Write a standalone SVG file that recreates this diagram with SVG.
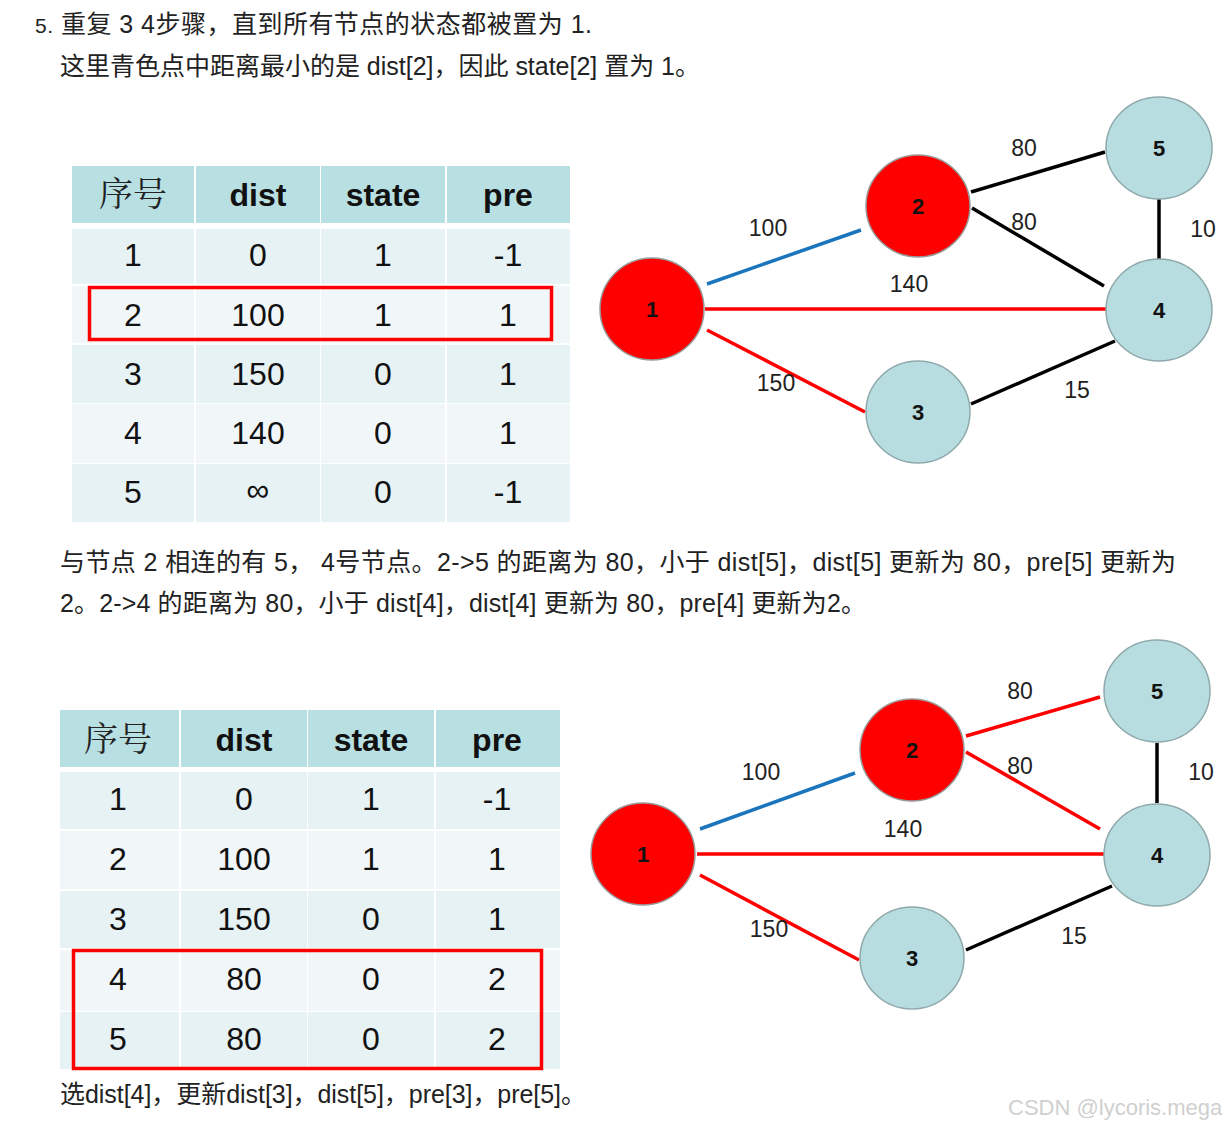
<svg xmlns="http://www.w3.org/2000/svg" width="1231" height="1126" viewBox="0 0 1231 1126">
<style>
.p{font-family:"Liberation Sans","Noto Sans CJK SC",sans-serif;font-size:25px;fill:#222}
.hd{fill:#b8dfe2}
.r1{fill:#e6f2f4}
.r2{fill:#f1f7f9}
.th{font-family:"Liberation Sans","Noto Sans CJK SC",sans-serif;font-size:32px;font-weight:bold;fill:#111;text-anchor:middle}
.thc{font-family:"Noto Serif CJK SC","Noto Sans CJK SC",serif;font-size:34px;fill:#222;text-anchor:middle}
.td{font-family:"Liberation Sans",sans-serif;font-size:32px;fill:#111;text-anchor:middle}
.hl{fill:none;stroke:#ff0000;stroke-width:3.5}
.nr{fill:#ff0000;stroke:#999;stroke-width:1.5}
.nb{fill:#b8dde0;stroke:#8fa9ab;stroke-width:1.5}
.nl{font-family:"Liberation Sans",sans-serif;font-size:22px;font-weight:bold;fill:#111;text-anchor:middle}
.el{font-family:"Liberation Sans",sans-serif;font-size:23px;fill:#222;text-anchor:middle}
.eb{stroke:#000;stroke-width:3.5}
.er{stroke:#ff0000;stroke-width:3.5}
.eu{stroke:#1a75bc;stroke-width:3.5}
</style>
<rect width="1231" height="1126" fill="#fff"/>

<g id="text1">
<text class="p" x="35" y="33" textLength="557" lengthAdjust="spacing"><tspan font-size="21">5.</tspan> 重复 3 4步骤，直到所有节点的状态都被置为 1.</text>
<text class="p" x="60" y="75" textLength="640" lengthAdjust="spacing">这里青色点中距离最小的是 dist[2]，因此 state[2] 置为 1。</text>
</g>

<g id="table1">
<rect class="hd" x="72" y="166" width="122" height="57"/>
<rect class="hd" x="196" y="166" width="124" height="57"/>
<rect class="hd" x="321" y="166" width="124" height="57"/>
<rect class="hd" x="447" y="166" width="123" height="57"/>
<g class="r1"><rect x="72" y="229" width="122" height="55"/><rect x="196" y="229" width="124" height="55"/><rect x="321" y="229" width="124" height="55"/><rect x="447" y="229" width="123" height="55"/></g>
<g class="r2"><rect x="72" y="286" width="122" height="57"/><rect x="196" y="286" width="124" height="57"/><rect x="321" y="286" width="124" height="57"/><rect x="447" y="286" width="123" height="57"/></g>
<g class="r1"><rect x="72" y="345" width="122" height="58"/><rect x="196" y="345" width="124" height="58"/><rect x="321" y="345" width="124" height="58"/><rect x="447" y="345" width="123" height="58"/></g>
<g class="r2"><rect x="72" y="404" width="122" height="59"/><rect x="196" y="404" width="124" height="59"/><rect x="321" y="404" width="124" height="59"/><rect x="447" y="404" width="123" height="59"/></g>
<g class="r1"><rect x="72" y="464" width="122" height="58"/><rect x="196" y="464" width="124" height="58"/><rect x="321" y="464" width="124" height="58"/><rect x="447" y="464" width="123" height="58"/></g>
<text class="thc" x="133" y="206">序号</text>
<text class="th" x="258" y="206">dist</text>
<text class="th" x="383" y="206">state</text>
<text class="th" x="508" y="206">pre</text>
<text class="td" x="133" y="266">1</text><text class="td" x="258" y="266">0</text><text class="td" x="383" y="266">1</text><text class="td" x="508" y="266">-1</text>
<text class="td" x="133" y="326">2</text><text class="td" x="258" y="326">100</text><text class="td" x="383" y="326">1</text><text class="td" x="508" y="326">1</text>
<text class="td" x="133" y="385">3</text><text class="td" x="258" y="385">150</text><text class="td" x="383" y="385">0</text><text class="td" x="508" y="385">1</text>
<text class="td" x="133" y="444">4</text><text class="td" x="258" y="444">140</text><text class="td" x="383" y="444">0</text><text class="td" x="508" y="444">1</text>
<text class="td" x="133" y="503">5</text><text class="td" x="258" y="501" font-size="26">∞</text><text class="td" x="383" y="503">0</text><text class="td" x="508" y="503">-1</text>
<rect class="hl" x="89.5" y="287.5" width="462" height="52"/>
</g>

<g id="graph1-edges">
<line class="eu" x1="707" y1="284" x2="861" y2="230"/>
<line class="er" x1="705" y1="309" x2="1107" y2="309"/>
<line class="er" x1="707" y1="330" x2="865" y2="412"/>
<line class="eb" x1="971" y1="192" x2="1105" y2="152"/>
<line class="eb" x1="972" y1="208" x2="1104" y2="286"/>
<line class="eb" x1="1159" y1="199" x2="1159" y2="259"/>
<line class="eb" x1="971" y1="404" x2="1115" y2="341"/>
<text class="el" x="1024" y="156">80</text>
<text class="el" x="1024" y="230">80</text>
<text class="el" x="768" y="236">100</text>
<text class="el" x="1203" y="237">10</text>
<text class="el" x="909" y="292">140</text>
<text class="el" x="776" y="391">150</text>
<text class="el" x="1077" y="398">15</text>
</g>
<g id="g1-n1"><ellipse class="nr" cx="652" cy="309" rx="52" ry="51"/><text class="nl" x="652" y="317">1</text></g>
<g id="g1-n2"><ellipse class="nr" cx="918" cy="206" rx="52" ry="51"/><text class="nl" x="918" y="214">2</text></g>
<g id="g1-n3"><ellipse class="nb" cx="918" cy="412" rx="52" ry="51"/><text class="nl" x="918" y="420">3</text></g>
<g id="g1-n4"><ellipse class="nb" cx="1159" cy="310" rx="53" ry="51"/><text class="nl" x="1159" y="318">4</text></g>
<g id="g1-n5"><ellipse class="nb" cx="1159" cy="148" rx="53" ry="51"/><text class="nl" x="1159" y="156">5</text></g>

<g id="text2">
<text class="p" x="60" y="571" textLength="1116" lengthAdjust="spacing">与节点 2 相连的有 5， 4号节点。2-&gt;5 的距离为 80，小于 dist[5]，dist[5] 更新为 80，pre[5] 更新为</text>
<text class="p" x="60" y="612" textLength="806" lengthAdjust="spacing">2。2-&gt;4 的距离为 80，小于 dist[4]，dist[4] 更新为 80，pre[4] 更新为2。</text>
</g>

<g id="table2">
<rect class="hd" x="60" y="710" width="119" height="57"/>
<rect class="hd" x="181" y="710" width="126" height="57"/>
<rect class="hd" x="308" y="710" width="126" height="57"/>
<rect class="hd" x="436" y="710" width="124" height="57"/>
<g class="r1"><rect x="60" y="772" width="119" height="57"/><rect x="181" y="772" width="126" height="57"/><rect x="308" y="772" width="126" height="57"/><rect x="436" y="772" width="124" height="57"/></g>
<g class="r2"><rect x="60" y="831" width="119" height="58"/><rect x="181" y="831" width="126" height="58"/><rect x="308" y="831" width="126" height="58"/><rect x="436" y="831" width="124" height="58"/></g>
<g class="r1"><rect x="60" y="891" width="119" height="57"/><rect x="181" y="891" width="126" height="57"/><rect x="308" y="891" width="126" height="57"/><rect x="436" y="891" width="124" height="57"/></g>
<g class="r2"><rect x="60" y="950" width="119" height="61"/><rect x="181" y="950" width="126" height="61"/><rect x="308" y="950" width="126" height="61"/><rect x="436" y="950" width="124" height="61"/></g>
<g class="r1"><rect x="60" y="1012" width="119" height="57"/><rect x="181" y="1012" width="126" height="57"/><rect x="308" y="1012" width="126" height="57"/><rect x="436" y="1012" width="124" height="57"/></g>
<text class="thc" x="118" y="751">序号</text>
<text class="th" x="244" y="751">dist</text>
<text class="th" x="371" y="751">state</text>
<text class="th" x="497" y="751">pre</text>
<text class="td" x="118" y="810">1</text><text class="td" x="244" y="810">0</text><text class="td" x="371" y="810">1</text><text class="td" x="497" y="810">-1</text>
<text class="td" x="118" y="870">2</text><text class="td" x="244" y="870">100</text><text class="td" x="371" y="870">1</text><text class="td" x="497" y="870">1</text>
<text class="td" x="118" y="930">3</text><text class="td" x="244" y="930">150</text><text class="td" x="371" y="930">0</text><text class="td" x="497" y="930">1</text>
<text class="td" x="118" y="990">4</text><text class="td" x="244" y="990">80</text><text class="td" x="371" y="990">0</text><text class="td" x="497" y="990">2</text>
<text class="td" x="118" y="1050">5</text><text class="td" x="244" y="1050">80</text><text class="td" x="371" y="1050">0</text><text class="td" x="497" y="1050">2</text>
<rect class="hl" x="73.5" y="950.5" width="468" height="118"/>
</g>

<g id="graph2-edges">
<line class="eu" x1="700" y1="829" x2="855" y2="773"/>
<line class="er" x1="697" y1="854" x2="1104" y2="854"/>
<line class="er" x1="700" y1="875" x2="859" y2="960"/>
<line class="er" x1="966" y1="736" x2="1100" y2="697"/>
<line class="er" x1="966" y1="752" x2="1100" y2="829"/>
<line class="eb" x1="1157" y1="743" x2="1157" y2="803"/>
<line class="eb" x1="966" y1="950" x2="1112" y2="886"/>
<text class="el" x="1020" y="699">80</text>
<text class="el" x="1020" y="774">80</text>
<text class="el" x="761" y="780">100</text>
<text class="el" x="1201" y="780">10</text>
<text class="el" x="903" y="837">140</text>
<text class="el" x="769" y="937">150</text>
<text class="el" x="1074" y="944">15</text>
</g>
<g id="g2-n1"><ellipse class="nr" cx="643" cy="854" rx="52" ry="51"/><text class="nl" x="643" y="862">1</text></g>
<g id="g2-n2"><ellipse class="nr" cx="912" cy="750" rx="52" ry="51"/><text class="nl" x="912" y="758">2</text></g>
<g id="g2-n3"><ellipse class="nb" cx="912" cy="958" rx="52" ry="51"/><text class="nl" x="912" y="966">3</text></g>
<g id="g2-n4"><ellipse class="nb" cx="1157" cy="855" rx="53" ry="51"/><text class="nl" x="1157" y="863">4</text></g>
<g id="g2-n5"><ellipse class="nb" cx="1157" cy="691" rx="53" ry="51"/><text class="nl" x="1157" y="699">5</text></g>

<g id="text3">
<text class="p" x="60" y="1103" textLength="526" lengthAdjust="spacing">选dist[4]，更新dist[3]，dist[5]，pre[3]，pre[5]。</text>
<text x="1008" y="1115" font-family="Liberation Sans,sans-serif" font-size="22" fill="#d0d0d0">CSDN @lycoris.mega</text>
</g>
</svg>
